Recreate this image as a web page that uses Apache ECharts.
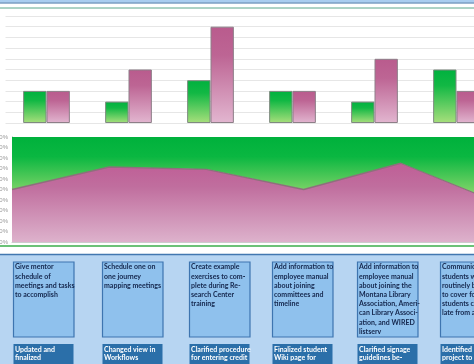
<!DOCTYPE html>
<html>
<head>
<meta charset="utf-8">
<script src="https://cdn.jsdelivr.net/npm/echarts@6/dist/echarts.min.js"></script>
<style>
html,body{margin:0;padding:0;background:#fff;}
#chart{width:474px;height:364px;}
</style>
</head>
<body>
<div id="chart"></div>
<script>
// values
var categories = ['Task 1', 'Task 2', 'Task 3', 'Task 4', 'Task 5', 'Task 6'];
var greenValues = [3, 2, 4, 3, 2, 5];
var pinkValues = [3, 5, 9, 3, 6, 3];
var percentTicks = [0, 10, 20, 30, 40, 50, 60, 70, 80, 90, 100];

var planTexts = [
	'Give mentor\nschedule of\nmeetings and tasks\nto accomplish',
	'Schedule one on\none journey\nmapping meetings',
	'Create example\nexercises to com-\nplete during Re-\nsearch Center\ntraining',
	'Add information to\nemployee manual\nabout joining\ncommittees and\ntimeline',
	'Add information to\nemployee manual\nabout joining the\nMontana Library\nAssociation, Ameri-\ncan Library Associ-\nation, and WIRED\nlistserv',
	'Communicate with\nstudents who\nroutinely book\nto cover for\nstudents calling\nlate from a shift'
];
var doneTexts = [
	'Updated and\nfinalized',
	'Changed view in\nWorkflows',
	'Clarified procedure\nfor entering credit',
	'Finalized student\nWiki page for',
	'Clarified signage\nguidelines be-',
	'Identified\nproject to'
];

// 100% stacked share for the area chart
var pinkShare = [], greenShare = [];
for (var i = 0; i < categories.length; i++) {
	var total = greenValues[i] + pinkValues[i];
	pinkShare.push(pinkValues[i] / total * 100);
	greenShare.push(greenValues[i] / total * 100);
}

function grad(top, mid, bottom) {
	return new echarts.graphic.LinearGradient(0, 0, 0, 1, [
		{offset: 0, color: top}, {offset: 0.3, color: mid}, {offset: 1, color: bottom}
	]);
}

var boxLeft = [13, 102, 189, 272, 357, 440];
var graphics = [
	{type: 'rect', shape: {x: 0, y: 0, width: 474, height: 2.5}, style: {fill: '#a9cdf0'}},
	{type: 'line', shape: {x1: 0, y1: 3, x2: 474, y2: 3}, style: {stroke: '#3b6ea5', lineWidth: 1.2}},
	{type: 'line', shape: {x1: 0, y1: 8, x2: 474, y2: 8}, style: {stroke: '#5aa68c', lineWidth: 1}},
	{type: 'line', shape: {x1: 0, y1: 246, x2: 474, y2: 246}, style: {stroke: '#3aae4a', lineWidth: 1.6}},
	{type: 'rect', shape: {x: 0, y: 254, width: 474, height: 110}, style: {fill: '#b7d5f2'}},
	{type: 'line', shape: {x1: 0, y1: 254.5, x2: 474, y2: 254.5}, style: {stroke: '#4277b0', lineWidth: 1.5}}
];
boxLeft.forEach(function(x, i) {
	graphics.push({type: 'rect', shape: {x: x + 0.5, y: 262, width: 60.5, height: 75},
		style: {fill: '#8fc1ed', stroke: '#3e75b0', lineWidth: 1.2}});
	graphics.push({type: 'text', x: x + 2, y: 262.5,
		style: {text: planTexts[i], fill: '#14264c', fontFamily: 'Lato', fontWeight: 'bold',
			fontSize: 7, lineHeight: 9.2, verticalAlign: 'top', align: 'left'}});
	graphics.push({type: 'rect', shape: {x: x + 0.5, y: 344, width: 60, height: 22},
		style: {fill: '#2b6fa9'}});
	graphics.push({type: 'text', x: x + 2, y: 345,
		style: {text: doneTexts[i], fill: '#ffffff', fontFamily: 'Lato', fontWeight: 'bold',
			fontSize: 7, lineHeight: 8.5, verticalAlign: 'top', align: 'left'}});
});

var chart = echarts.init(document.getElementById('chart'));
var option = {
	animation: false,
	backgroundColor: '#ffffff',
	grid: [
		{left: 5.5, top: 16, width: 492, height: 107, outerBoundsMode: 'none', containLabel: false},
		{left: 12, top: 137, width: 486, height: 105, outerBoundsMode: 'none', containLabel: false}
	],
	xAxis: [
		{type: 'category', gridIndex: 0, data: categories, axisLine: {show: false},
			axisTick: {show: false}, axisLabel: {show: false}},
		{type: 'category', gridIndex: 1, data: categories, boundaryGap: false,
			axisLine: {show: true, lineStyle: {color: '#cccccc'}},
			axisTick: {show: false}, axisLabel: {show: false}}
	],
	yAxis: [
		{type: 'value', gridIndex: 0, min: 0, max: 10, interval: 1,
			axisLine: {show: false}, axisTick: {show: false}, axisLabel: {show: false},
			splitLine: {lineStyle: {color: '#e6e6e6', width: 1}}},
		{type: 'value', gridIndex: 1, min: 0, max: 100, interval: 10,
			axisLine: {show: true, lineStyle: {color: '#a0a0a0', width: 1}},
			axisTick: {show: false}, splitLine: {show: false},
			axisLabel: {formatter: '{value}%', fontSize: 6, color: '#9a9a9a', margin: 4,
				fontFamily: 'Liberation Sans'}}
	],
	series: [
		{name: 'Completed', type: 'bar', xAxisIndex: 0, yAxisIndex: 0, data: greenValues,
			barGap: '0%', barCategoryGap: '43%',
			itemStyle: {color: grad('#00b13f', '#12b844', '#a8df7c'), borderColor: '#7f8a80', borderWidth: 1}},
		{name: 'Planned', type: 'bar', xAxisIndex: 0, yAxisIndex: 0, data: pinkValues,
			itemStyle: {color: grad('#b95b8d', '#bd6594', '#e2b6d0'), borderColor: '#8d7f88', borderWidth: 1}},
		{name: 'Planned share', type: 'line', xAxisIndex: 1, yAxisIndex: 1, stack: 'share',
			data: pinkShare, symbol: 'none',
			lineStyle: {color: '#8e6f7c', width: 1.3},
			areaStyle: {opacity: 1, color: grad('#bf5e96', '#c06e9e', '#ddb2cc')}},
		{name: 'Completed share', type: 'line', xAxisIndex: 1, yAxisIndex: 1, stack: 'share',
			data: greenShare, symbol: 'none',
			lineStyle: {width: 0},
			areaStyle: {opacity: 1, color: grad('#00b13c', '#0ab741', '#a2dd74')}}
	],
	graphic: graphics
};
chart.setOption(option);
</script>
</body>
</html>
